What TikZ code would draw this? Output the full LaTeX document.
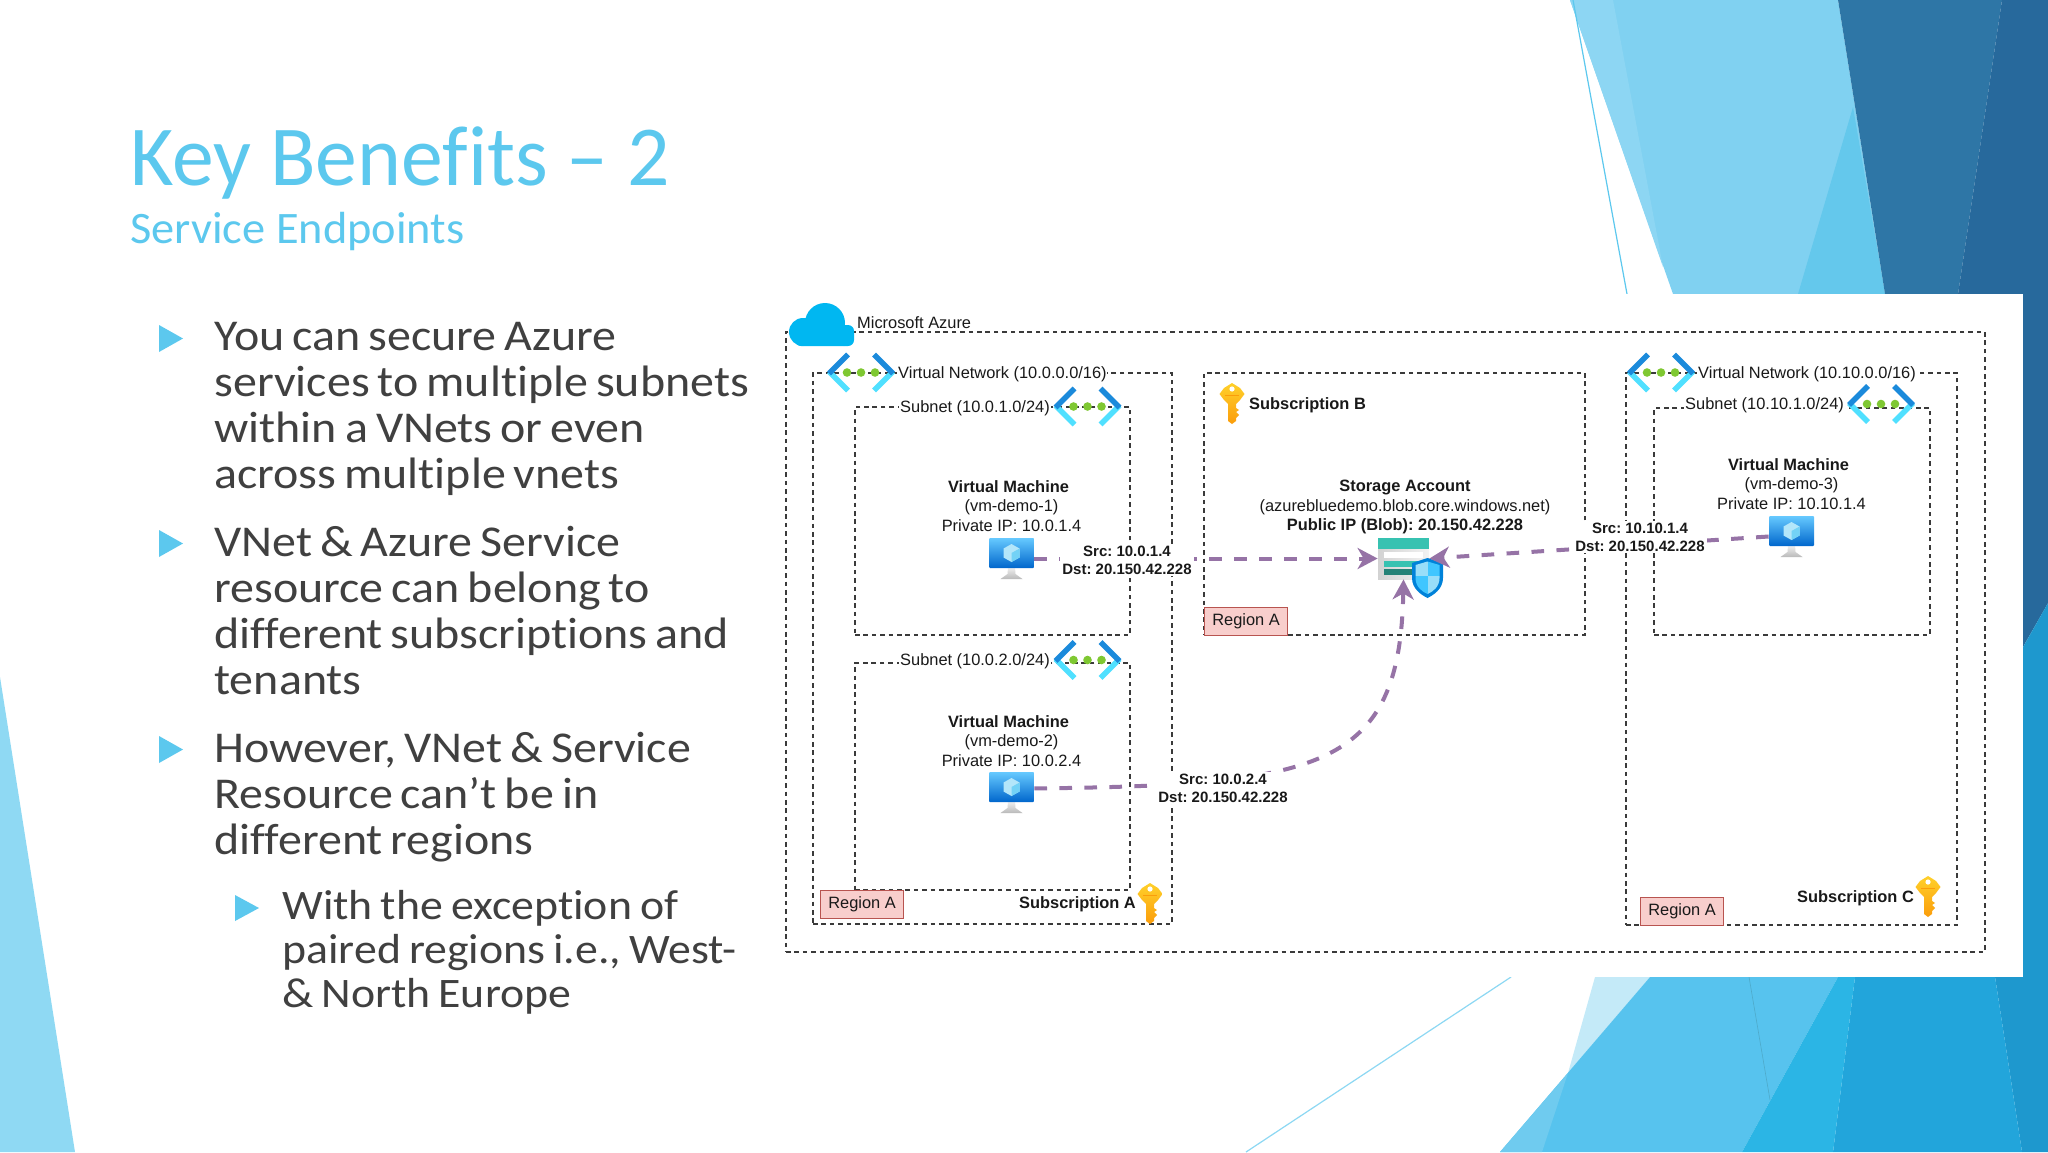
\documentclass[tikz,border=0pt]{standalone}
\usepackage{fontspec}
\setmainfont{Carlito}
\newfontfamily\diagfont{Liberation Sans}
\newfontfamily\titlefont[FakeStretch=0.98,Ligatures=NoCommon]{Carlito}
\newfontfamily\subfont[FakeStretch=1.03,Ligatures=NoCommon]{Carlito}
\newfontfamily\bodyfont[FakeStretch=1.09,Ligatures=NoCommon]{Carlito}
\usetikzlibrary{arrows.meta,fit}
\frenchspacing

\definecolor{accent}{HTML}{5CC8EE}
\definecolor{bodygrey}{HTML}{404040}
\definecolor{boxline}{HTML}{3A3A3A}
\definecolor{flowpurple}{HTML}{9673A6}
\definecolor{keytop}{HTML}{FFD02A}
\definecolor{keybot}{HTML}{FB9D0B}
\definecolor{chevdark}{HTML}{1B8ADB}
\definecolor{chevlight}{HTML}{50E0FF}
\definecolor{dotgreen}{HTML}{7FC832}
\definecolor{cloudblue}{HTML}{00B7F1}
\definecolor{regionline}{HTML}{B85450}
\definecolor{regionfill}{HTML}{F8CECC}
\definecolor{storeteal}{HTML}{37C2B1}
\definecolor{storedark}{HTML}{258277}
\definecolor{skyband}{HTML}{80D1F1}
\definecolor{skypale}{HTML}{8DD6F3}
\definecolor{skymid}{HTML}{64C8EC}
\definecolor{steelone}{HTML}{2E76A6}
\definecolor{steeltwo}{HTML}{27699C}
\definecolor{floorone}{HTML}{57C3EE}
\definecolor{floorpale}{HTML}{C4EAF8}
\definecolor{floorlight}{HTML}{6FCBEF}
\definecolor{floortwo}{HTML}{2BB5E5}
\definecolor{floorthree}{HTML}{22A5DB}
\definecolor{floorfour}{HTML}{1E98CE}
\definecolor{leftband}{HTML}{8FD9F3}

\tikzset{
  netbox/.style={draw=boxline,line width=0.7pt,dash pattern=on 2.3pt off 1.9pt,inner sep=0pt},
  iconbox/.style={inner sep=0pt,minimum width=22.5pt,minimum height=20.5pt},
  plainlabel/.style={font=\diagfont\fontsize{8.2}{9.7}\selectfont,text=black!90,inner sep=0.4pt,align=center},
  boxlabel/.style={plainlabel,fill=white,anchor=west},
  sublabel/.style={plainlabel,font=\diagfont\bfseries\fontsize{8.2}{9.7}\selectfont,anchor=west},
  flowlabel/.style={plainlabel,font=\diagfont\bfseries\fontsize{7.5}{9}\selectfont,fill=white,inner sep=1pt},
  regionbox/.style={plainlabel,draw=regionline,fill=regionfill,line width=0.6pt,anchor=north west,minimum width=41.5pt,minimum height=14pt,inner sep=0pt},
  flow/.style={draw=flowpurple,line width=2pt,dash pattern=on 6.3pt off 6.2pt,-{Stealth[length=10pt,width=10.5pt,inset=3pt]}},
  bodytext/.style={text=bodygrey,anchor=base west,inner sep=0pt,align=left,execute at begin node={\spaceskip=4pt\relax}},
  netchevrons/.pic={
    \foreach \s in {-14,0,14} \fill[dotgreen] (\s,0) circle (4.3);
    \foreach \s in {-1,1} {
      \draw[line width=2.7pt,color=chevlight] (\s*32,-1) -- (\s*13,18);
      \draw[line width=2.7pt,color=chevdark] (\s*32,1) -- (\s*13,-18);
    }
  },
  keyicon/.pic={
    \shade[top color=keytop,bottom color=keybot]
      (0,0) -- (8,5) -- (12.5,11) -- (8,17) -- (4,21) -- (4,25) -- (7,27) -- (4,29) -- (7,32) -- (4,35) -- (4,38) -- (0,41)
      -- (-4,38) -- (-4,21) -- (-8,17) -- (-12.5,11) -- (-8,5) -- cycle;
    \fill[white] (0,6) circle (2.6);
    \fill[keybot] (-7,12) rectangle (7,13.2);
  },
  vmicon/.pic={
    \shade[top color=gray!10,bottom color=gray!55] (-3.5,29) -- (3.5,29) -- (4,36) -- (11,41) -- (-11,41) -- (-4,36) -- cycle;
    \shade[top color=blue!35!cyan!60,bottom color=blue!50!cyan!80!black,rounded corners=0.5] (-22.5,0) rectangle (22.5,30);
    \fill[cyan!30!white] (0,6) -- (8,10.5) -- (8,19.5) -- (0,24) -- (-8,19.5) -- (-8,10.5) -- cycle;
    \fill[cyan!55!white] (0,15) -- (8,10.5) -- (8,19.5) -- (0,24) -- cycle;
  },
  storeicon/.pic={
    \shade[left color=gray!35,right color=gray!10] (0,0) rectangle (51,41);
    \fill[storeteal] (0,0) rectangle (51,11);
    \fill[white] (6,14) rectangle (45,20);
    \fill[storeteal] (6,23) rectangle (45,29);
    \fill[storedark] (6,31) rectangle (45,37);
  },
  shieldicon/.pic={
    \fill[blue!40!cyan!85!black] (0,0) -- (15.5,5) -- (15.5,20) .. controls (15.5,31) and (6,37) .. (0,40)
      .. controls (-6,37) and (-15.5,31) .. (-15.5,20) -- (-15.5,5) -- cycle;
    \begin{scope}
      \clip (0,3.5) -- (12,7) -- (12,20) .. controls (12,29) and (5,34) .. (0,36)
        .. controls (-5,34) and (-12,29) .. (-12,20) -- (-12,7) -- cycle;
      \fill[cyan!40!white] (-13,2) rectangle (0,18);
      \fill[blue!30!cyan!75] (0,2) rectangle (13,18);
      \fill[blue!30!cyan!75] (-13,18) rectangle (0,37);
      \fill[cyan!40!white] (0,18) rectangle (13,37);
    \end{scope}
  },
}

\begin{document}
\begin{tikzpicture}[x=0.5pt,y=-0.5pt]
  \useasboundingbox (0,0) rectangle (2048,1152);
  \fill[white] (0,0) rectangle (2048,1152);

  % Slide background, top right
  \fill[skyband] (1570,0) -- (1838,0) -- (1885,294) -- (1673,294) -- cycle;
  \fill[skypale] (1570,0) -- (1613,0) -- (1663,267) -- cycle;
  \fill[skymid] (1853,107) -- (1798,294) -- (1885,294) -- cycle;
  \fill[steelone] (1838,0) -- (2002,0) -- (1958,294) -- (1885,294) -- cycle;
  \fill[steeltwo] (2002,0) -- (2048,0) -- (2048,603) -- (2023,647) -- (2023,294) -- (1958,294) -- cycle;
  \draw[accent,line width=0.6pt] (1573,0) -- (1627,294);

  % Slide background, bottom right
  \fill[floorfour] (2023,647) -- (2048,603) -- (2048,1152) -- (2022,1152) -- (1995,977) -- (2023,977) -- cycle;
  \fill[floorthree] (1855,977) -- (1995,977) -- (2022,1152) -- (1833,1152) -- cycle;
  \fill[floorpale] (1595,977) -- (1650,977) -- (1568,1073) -- cycle;
  \fill[floorone] (1650,977) -- (1838,977) -- (1742,1152) -- (1500,1152) -- cycle;
  \fill[floorlight] (1568,1073) -- (1542,1152) -- (1500,1152) -- cycle;
  \fill[floortwo] (1838,977) -- (1855,977) -- (1833,1152) -- (1742,1152) -- cycle;
  \draw[accent!85!black,line width=0.3pt] (1749,977) -- (1770,1100);
  \draw[accent!70!white,line width=0.6pt] (1511,977) -- (1246,1152);

  % Slide background, left
  \fill[leftband] (0,677) -- (75,1152) -- (0,1152) -- cycle;

  % Title
  \node[anchor=base west,inner sep=0pt,text=accent,font=\titlefont\fontsize{42.7}{44}\selectfont] (title) at (130,185) {Key Benefits – 2};
  \node[anchor=base west,inner sep=0pt,text=accent,font=\subfont\fontsize{22.5}{24}\selectfont] (subtitle) at (130,243) {Service Endpoints};

  % Bullets
  \foreach \y in {325,530,736} {
    \fill[accent] (159,\y) -- (183,\y+13.5) -- (159,\y+27) -- cycle;
  }
  \fill[accent] (235,895) -- (259,908) -- (235,921) -- cycle;

  \node[bodytext,text width=290pt,font=\bodyfont\fontsize{22}{23.1}\selectfont] (textone) at (214,350)
    {You can secure Azure\\services to multiple subnets\\within a VNets or even\\across multiple vnets};
  \node[bodytext,text width=290pt,font=\bodyfont\fontsize{22}{23.1}\selectfont] (texttwo) at (214,556)
    {VNet \& Azure Service\\resource can belong to\\different subscriptions and\\tenants};
  \node[bodytext,text width=290pt,font=\bodyfont\fontsize{22}{23.1}\selectfont] (textthree) at (214,762)
    {However, VNet \& Service\\Resource can’t be in\\different regions};
  \node[bodytext,text width=270pt,font=\bodyfont\fontsize{21}{22}\selectfont] (textfour) at (282,919)
    {With the exception of\\paired regions i.e., West-\\\& North Europe};

  % White panel of the diagram
  \fill[white] (770,294) rectangle (2023,977);

  % Dashed boxes
  \foreach \name/\xa/\ya/\xb/\yb in {outerbox/786/332/1985/952, vnetone/813/373/1172/924, subnetone/855/407/1130/635,
      subnettwo/855/663/1130/890, subbox/1204/373/1585/635, vnetthree/1626/373/1957/925, subnetthree/1654/408/1930/635} {
    \node[netbox,fit={(\xa,\ya) (\xb,\yb)}] (\name) {};
  }

  % Box labels
  \node[plainlabel,anchor=west] (azurelabel) at (856,323) {Microsoft Azure};
  \node[boxlabel] (vnetonelabel) at (897,374.5) {Virtual Network (10.0.0.0/16)};
  \node[boxlabel] (subnetonelabel) at (899,408.5) {Subnet (10.0.1.0/24)};
  \node[boxlabel] (subnettwolabel) at (899,661.5) {Subnet (10.0.2.0/24)};
  \node[boxlabel] (vnetthreelabel) at (1697,374.5) {Virtual Network (10.10.0.0/16)};
  \node[boxlabel] (subnetthreelabel) at (1684,405.5) {Subnet (10.10.1.0/24)};

  % Azure cloud
  \fill[cloudblue] (825,323) circle (20) (803,332) circle (14) (844,338) circle (8);
  \fill[cloudblue,rounded corners=3] (795,325) rectangle (854,346);

  % Network icons
  \foreach \x/\y in {861/372.5,1087.5/406.5,1087.5/660,1661/372.5,1881/404} {
    \pic at (\x,\y) {netchevrons};
  }

  % Virtual machines
  \foreach \n/\x/\y/\ly/\ip in {1/1011.5/538/506/10.0.1.4,2/1011.5/772/741/10.0.2.4,3/1791.5/516/484/10.10.1.4} {
    \pic at (\x,\y) {vmicon};
    \node[iconbox] (vm\n) at (\x,\y+20.5) {};
    \node[plainlabel] (vmlabel\n) at (\x,\ly) {\textbf{Virtual Machine}\hspace*{3pt}\\(vm-demo-\n)\\Private IP: \ip};
  }

  % Storage account
  \pic at (1378,538) {storeicon};
  \pic at (1427.5,558) {shieldicon};
  \node[iconbox,minimum width=25.5pt] (store) at (1403.5,558.5) {};
  \node[plainlabel] (storelabel) at (1405,507) {\textbf{Storage Account}\\(azurebluedemo.blob.core.windows.net)\\\textbf{Public IP (Blob): 20.150.42.228}};

  % Traffic to the storage account
  \draw[flow] (vm1.east) -- (store.west);
  \draw[flow] (vm3.west) -- (store.east);
  \draw[flow] (vm2.10) .. controls (1320,785) and (1400,770) .. (store.south);

  \node[flowlabel] (flowone) at (1127,560) {Src: 10.0.1.4\\Dst: 20.150.42.228};
  \node[flowlabel] (flowtwo) at (1223,788) {Src: 10.0.2.4\\Dst: 20.150.42.228};
  \node[flowlabel] (flowthree) at (1640,537) {Src: 10.10.1.4\\Dst: 20.150.42.228};

  % Regions
  \foreach \n/\x/\y in {one/820/890,two/1204/607,three/1640/897} {
    \node[regionbox] (region\n) at (\x,\y) {Region A};
  }

  % Subscriptions
  \node[sublabel] (subalabel) at (1018,904) {Subscription A};
  \node[sublabel] (subblabel) at (1248,405) {Subscription B};
  \node[sublabel] (subclabel) at (1796,898) {Subscription C};
  \foreach \x/\y in {1150/883,1232/383,1928/876} {
    \pic at (\x,\y) {keyicon};
  }
\end{tikzpicture}
\end{document}
